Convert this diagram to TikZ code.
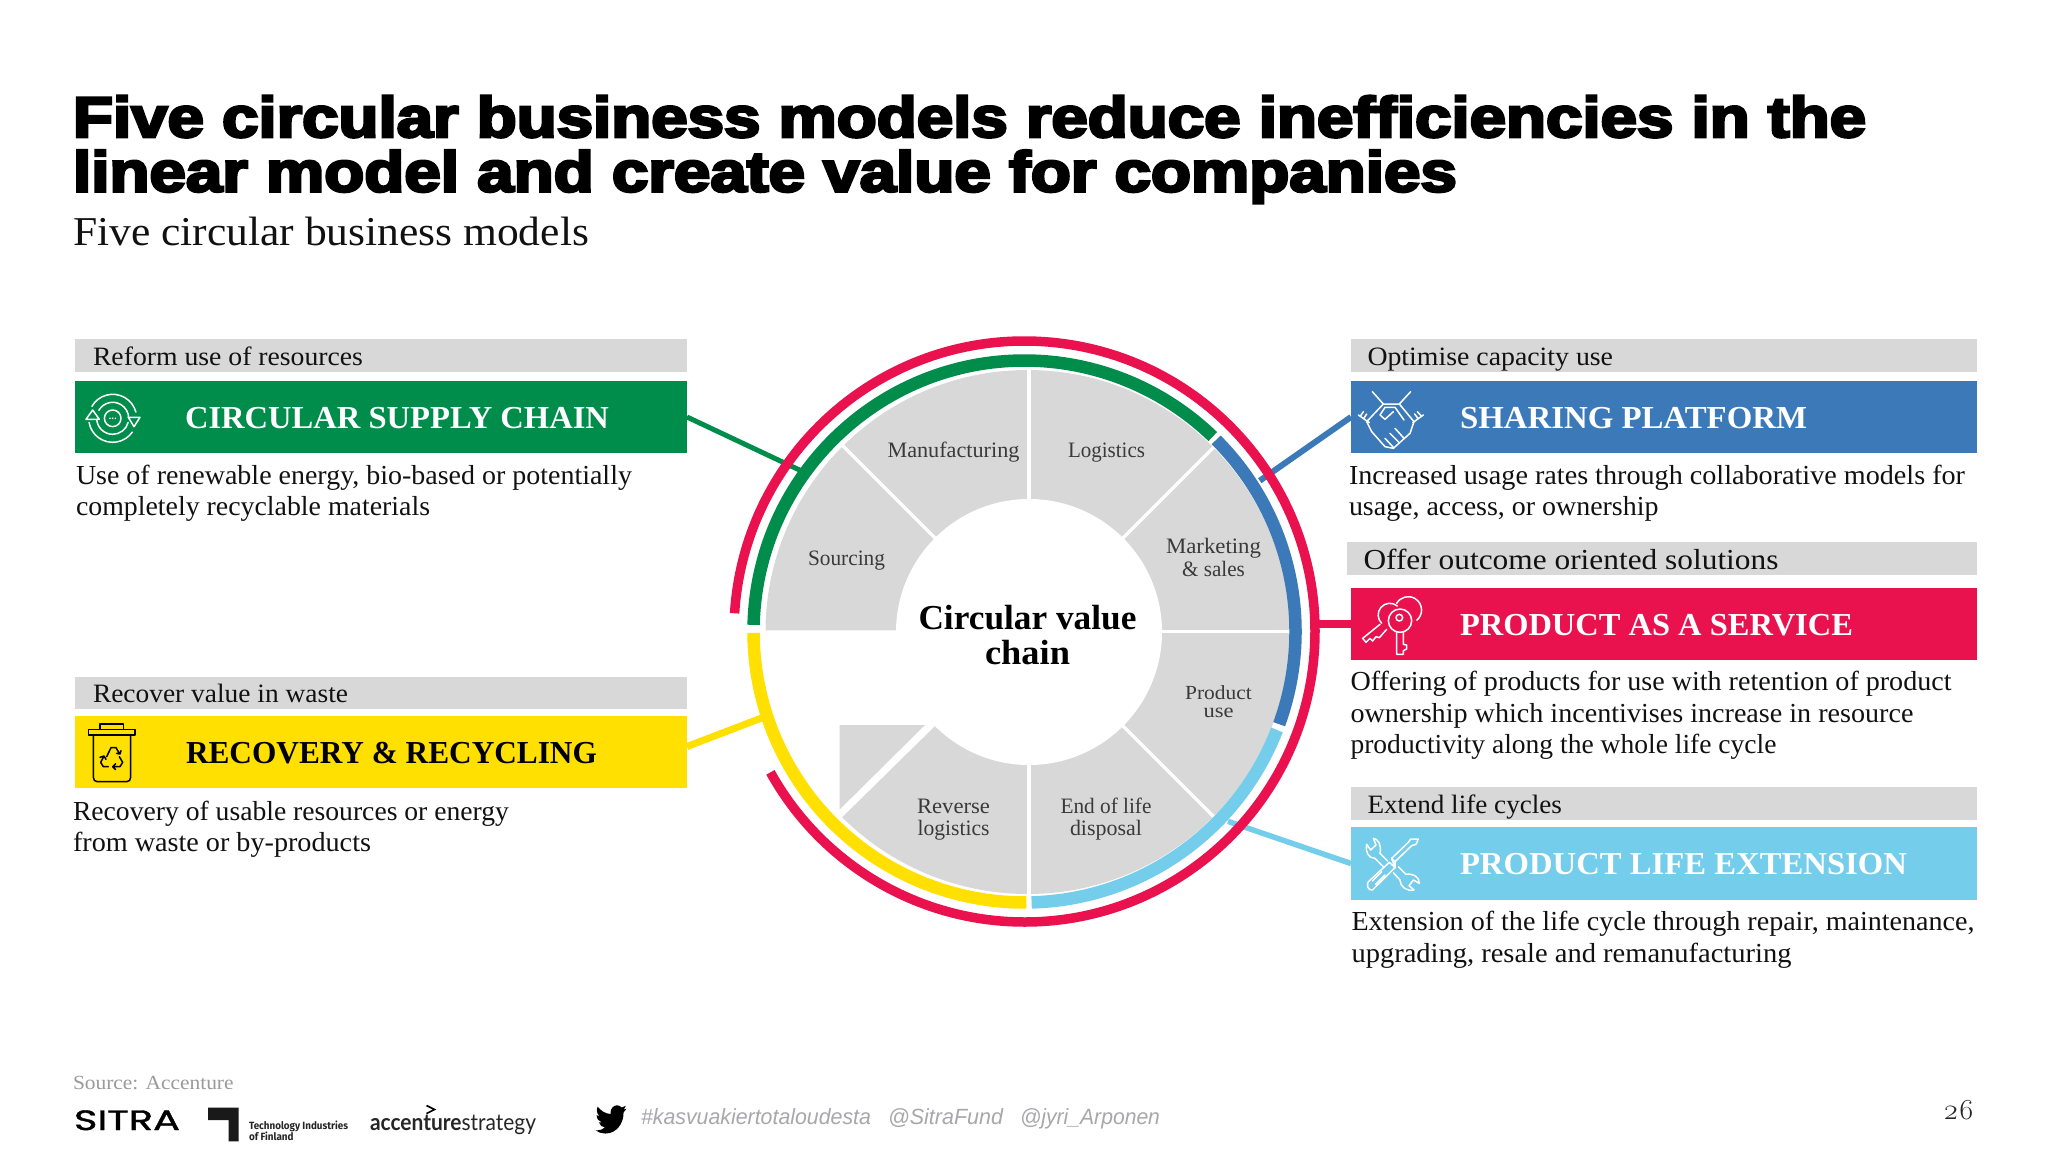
\documentclass[tikz,border=0pt]{standalone}
\usepackage{fontspec}
\usepackage{graphicx}
\setmainfont{Liberation Serif}
\newfontfamily\titlef[BoldFeatures={FakeBold=4.5}]{Liberation Sans}
\newfontfamily\tagf{Liberation Sans}
\newfontfamily\logof[FakeBold=1.2]{Poppins}
\newfontfamily\techf{Fira Sans}
\newfontfamily\accf{Lato}
\newfontfamily\pagef[Numbers=OldStyle]{Latin Modern Roman}
\definecolor{cgreen}{HTML}{008C4B}
\definecolor{cyellow}{HTML}{FFE000}
\definecolor{cblue}{HTML}{3B79B9}
\definecolor{cred}{HTML}{E9124F}
\definecolor{csky}{HTML}{74CDEA}
\definecolor{cgray}{HTML}{D8D8D9}
\definecolor{cink}{HTML}{111111}
\definecolor{clabel}{HTML}{3A3A3A}
\definecolor{cfoot}{HTML}{9A9A9A}
\definecolor{ctag}{HTML}{A8A8AC}
\newcommand\fitw[2]{\resizebox{#1pt}{\height}{#2}}
% name, x, y, style, width, text
\newcommand\txt[6]{\node[lbl,#4] (#1) at (#2,#3) {\fitw{#5}{#6}};}
% options, cx, cy, r, from, to
\newcommand\ringarc[6]{\draw[#1] ({#2+#4*cos(#5)},{#3-#4*sin(#5)}) arc[start angle=#5,end angle=#6,radius=#4 pt];}
\tikzset{
  lbl/.style={inner sep=0pt,outer sep=0pt,anchor=base west,text=cink},
  mid/.style={anchor=base},
  title/.style={font=\titlef\bfseries\fontsize{57}{60}\selectfont,text=black},
  sub/.style={font=\fontsize{41}{44}\selectfont},
  head/.style={font=\fontsize{26.5}{30}\selectfont},
  headb/.style={font=\fontsize{29}{32}\selectfont},
  desc/.style={font=\fontsize{27.5}{30}\selectfont},
  bandtxt/.style={font=\bfseries\fontsize{32}{34}\selectfont,text=white},
  seg/.style={mid,font=\fontsize{22}{24}\selectfont,text=clabel},
  segs/.style={mid,font=\fontsize{20}{22}\selectfont,text=clabel},
  hub/.style={mid,font=\bfseries\fontsize{35}{36}\selectfont,text=black},
  band/.style={inner sep=0pt,outer sep=0pt,minimum width=626pt,minimum height=72.5pt},
  bandl/.style={band,minimum width=612pt},
  bar/.style={inner sep=0pt,outer sep=0pt,fill=cgray,minimum height=33pt,minimum width=612pt},
  rim/.style={line width=12.5pt,line cap=butt},
  link/.style={line cap=butt},
  ico/.style={draw=white,line width=1.5pt,line cap=round,line join=round},
  icob/.style={draw=black,line width=1.5pt,line cap=round,line join=round}
}
\begin{document}
\begin{tikzpicture}[x=1pt,y=-1pt]
\useasboundingbox (0,0) rectangle (2048,1152);
\fill[white] (0,0) rectangle (2048,1152);

% title
\txt{t1}{73}{137}{title}{1793}{Five circular business models reduce inefficiencies in the}
\txt{t2}{73}{191.5}{title}{1384}{linear model and create value for companies}
\txt{t3}{73}{245}{sub}{516}{Five circular business models}

% grey header bars
\node[bar] (barA) at (381,355.5) {};
\node[bar,minimum height=32pt] (barB) at (381,692.5) {};
\node[bar,minimum width=626pt] (barC) at (1664,355.5) {};
\node[bar,minimum width=630pt] (barD) at (1662,558.5) {};
\node[bar,minimum width=626pt] (barE) at (1664,803.5) {};

% coloured bands
\node[bandl,fill=cgreen] (green) at (381,417) {};
\node[bandl,fill=cyellow] (yellow) at (381,752) {};
\node[band,fill=cblue] (blue) at (1664,417) {};
\node[band,fill=cred] (red) at (1664,624) {};
\node[band,fill=csky,minimum height=73pt] (sky) at (1664,863.5) {};

% connector ends on the ring
\coordinate (greenEnd) at (801,470.7);
\coordinate (yellowStart) at (687,746.5);
\coordinate (yellowEnd) at (762.3,717.7);
\coordinate (blueEnd) at (1259.8,480.7);
\coordinate (redEnd) at (1315,624);
\coordinate (skyEnd) at (1228,821.4);

\draw[link,cgreen,line width=5pt] (green.east) -- (greenEnd);
\draw[link,cyellow,line width=7pt] (yellowStart) -- (yellowEnd);
\draw[link,cblue,line width=6pt] (blue.west) -- (blueEnd);
\draw[link,cred,line width=8pt] (red.west) -- (redEnd);
\draw[link,csky,line width=5.5pt] (sky.west) -- (skyEnd);

% wheel
\fill[cgray] (765.5,630.45) arc[start angle=179.66,end angle=-135,radius=262pt] -- (1031,632) -- (1031,630.45) -- cycle;
\fill[cgray] (839.7,725) -- (925,725) -- (839.7,809.4) -- cycle;
\fill[white] (1029,632) circle[radius=133pt];
\draw[white,line width=3.4pt] (1029,365) -- (1029,500);
\draw[white,line width=3.4pt] (1029,764) -- (1029,899);
\draw[white,line width=3.4pt] (1162,631.5) -- (1295,631.5);
\draw[white,line width=3.4pt] (935,538) -- (838,441);
\draw[white,line width=3.4pt] (1123,538) -- (1220,441);
\draw[white,line width=3.4pt] (1123,726) -- (1220,823);

% rings
\ringarc{cred,line width=9.5pt}{1024.5}{631.5}{290.5}{176.4}{-151}
\ringarc{rim,cgreen}{1024.5}{631.5}{271}{178.6}{46}
\ringarc{rim,cblue}{1024.5}{631.5}{271}{45}{-20}
\ringarc{rim,csky}{1024.5}{631.5}{271}{-21.3}{-88.5}
\ringarc{rim,cyellow}{1024.5}{631.5}{271}{180.3}{270.4}

% wheel labels
\txt{sManu}{953.5}{457.4}{seg}{132}{Manufacturing}
\txt{sLog}{1106.5}{457.4}{seg}{77}{Logistics}
\txt{sSrc}{846.5}{565}{seg}{77}{Sourcing}
\txt{sMkt}{1213.5}{553.8}{seg}{95}{Marketing}
\txt{sMkb}{1213.5}{576}{seg}{62.7}{\& sales}
\txt{sPro}{1218.5}{699.7}{segs}{66.6}{Product}
\txt{sPrb}{1218.5}{717.7}{segs}{30}{use}
\txt{sRev}{953.5}{813.4}{seg}{73}{Reverse}
\txt{sReb}{953.5}{835}{seg}{72}{logistics}
\txt{sEnd}{1106}{813.4}{seg}{91}{End of life}
\txt{sEnb}{1106}{835}{seg}{72}{disposal}
\txt{hub1}{1027.5}{629}{hub}{218}{Circular value}
\txt{hub2}{1027.5}{664.5}{hub}{85}{chain}

% left texts
\txt{hA}{93}{365.5}{head}{270}{Reform use of resources}
\txt{nA}{185}{428}{bandtxt}{424}{CIRCULAR SUPPLY CHAIN}
\txt{dA1}{76}{484}{desc}{556}{Use of renewable energy, bio-based or potentially}
\txt{dA2}{76}{515.5}{desc}{354}{completely recyclable materials}
\txt{hB}{93}{702.5}{head}{255}{Recover value in waste}
\txt{nB}{186}{763}{bandtxt,text=black}{411}{RECOVERY \& RECYCLING}
\txt{dB1}{73}{820}{desc}{436}{Recovery of usable resources or energy}
\txt{dB2}{73}{851}{desc}{298}{from waste or by-products}

% right texts
\txt{hC}{1367.5}{365.5}{head}{245.5}{Optimise capacity use}
\txt{nC}{1460}{428}{bandtxt}{347}{SHARING PLATFORM}
\txt{dC1}{1349}{484}{desc}{616}{Increased usage rates through collaborative models for}
\txt{dC2}{1349}{515.5}{desc}{309.5}{usage, access, or ownership}
\txt{hD}{1363.5}{569.5}{headb}{415}{Offer outcome oriented solutions}
\txt{nD}{1460}{635}{bandtxt}{393}{PRODUCT AS A SERVICE}
\txt{dD1}{1350.5}{690.5}{desc}{601}{Offering of products for use with retention of product}
\txt{dD2}{1350.5}{722}{desc}{563}{ownership which incentivises increase in resource}
\txt{dD3}{1350.5}{753}{desc}{426}{productivity along the whole life cycle}
\txt{hE}{1367.5}{813.5}{head}{194.5}{Extend life cycles}
\txt{nE}{1460}{874}{bandtxt}{447}{PRODUCT LIFE EXTENSION}
\txt{dE1}{1351.5}{930.5}{desc}{623}{Extension of the life cycle through repair, maintenance,}
\txt{dE2}{1351.5}{962}{desc}{440}{upgrading, resale and remanufacturing}

% icon: circular arrows
\draw[ico] (112.7,418.3) circle[radius=8.3pt];
\fill[white] (110,418.3) circle[radius=0.9pt] (112.7,418.3) circle[radius=0.9pt] (115.4,418.3) circle[radius=0.9pt];
\ringarc{ico}{112.7}{418.3}{24}{150}{15}
\ringarc{ico}{112.7}{418.3}{24}{190}{325}
\ringarc{ico}{112.7}{418.3}{16}{150}{0}
\ringarc{ico}{112.7}{418.3}{16}{180}{345}
\draw[ico,fill=cgreen] (86,419.3) -- (99.3,419.3) -- (92.7,410) -- cycle;
\draw[ico,fill=cgreen] (128.3,417.3) -- (140,417.3) -- (134,426.7) -- cycle;

% icon: bin
\begin{scope}[shift={(60,700)},scale=1/3]
\draw[icob] (120,88) -- (120,72) -- (190,72) -- (190,88);
\draw[icob] (85,88) -- (225,88) -- (225,105) -- (85,105) -- cycle;
\draw[icob] (100,105) -- (100,232) .. controls (100,240) and (105,245) .. (112,245) -- (200,245) .. controls (207,245) and (212,240) .. (212,232) -- (212,105);
\draw[icob] (140,170) -- (153,143) -- (168,143) -- (178,160) (170,160) -- (180,162) -- (183,152);
\draw[icob] (178,170) -- (188,187) -- (180,200) -- (160,200) (167,191) -- (158,200) -- (167,209);
\draw[icob] (145,200) -- (130,200) -- (122,187) -- (130,172) (120,172) -- (132,168) -- (138,178);
\end{scope}

% icon: handshake
\begin{scope}[shift={(1340,370)},scale=1/3]
\draw[ico] (97,65) -- (130,102) -- (178,102) -- (212,65);
\draw[ico] (55,135) -- (88,158) (62,137) -- (70,125) (72,144) -- (80,132);
\draw[ico] (250,135) -- (218,158) (243,137) -- (232,125) (233,144) -- (224,132);
\draw[ico] (130,102) -- (80,155) -- (95,185) -- (135,230) -- (160,235) -- (210,190) -- (222,155) -- (178,102);
\draw[ico] (135,205) -- (160,232) (150,190) -- (178,218) (165,175) -- (192,205);
\draw[ico] (120,135) -- (135,112) -- (165,112) -- (192,150) (120,135) -- (135,148) -- (160,125);
\end{scope}

% icon: keys
\begin{scope}[shift={(1340,585)},scale=1/3]
\draw[ico] (180,107) circle[radius=35pt];
\draw[ico] (178,98) circle[radius=10pt];
\draw[ico] (170,142) -- (170,208) -- (190,208) -- (190,197) -- (200,192) -- (200,180) -- (190,178) -- (190,142);
\draw[ico] (172,63) arc[start angle=50,end angle=225,radius=35pt];
\draw[ico] (170,55) arc[start angle=150,end angle=-50,radius=40pt];
\draw[ico] (120,118) -- (68,160) -- (78,172) -- (90,160) -- (98,168) -- (108,155) -- (118,158) -- (140,133);
\end{scope}

% icon: tools
\begin{scope}[shift={(1340,825)},scale=1/3]
\draw[ico] (120,85) .. controls (125,60) and (115,42) .. (100,40) -- (108,60) -- (92,75) -- (80,58) .. controls (75,80) and (85,100) .. (105,100) -- (130,125);
\draw[ico] (120,85) -- (143,108);
\draw[ico] (175,125) -- (198,148) .. controls (220,145) and (238,155) .. (238,175) -- (220,165) -- (207,182) -- (222,195) .. controls (200,200) and (180,185) .. (180,165) -- (160,143);
\draw[ico] (235,42) -- (228,58) -- (215,62) -- (165,110) -- (155,100) -- (205,52) -- (212,42) -- cycle;
\draw[ico] (148,112) -- (165,128) -- (155,100) (165,110) -- (165,128);
\draw[ico] (148,112) -- (85,170) .. controls (78,180) and (85,197) .. (97,195) -- (165,128);
\draw[ico] (125,140) -- (97,168) (135,150) -- (107,178);
\end{scope}

% footer
\txt{src}{73}{1089}{font=\fontsize{20}{22}\selectfont,text=cfoot}{160.6}{Source: Accenture}
\txt{lgS}{74}{1130}{font=\logof\fontsize{28}{30}\selectfont,text=black}{106}{SITRA}
\fill[black!90] (208,1107.5) -- (238.6,1107.5) -- (238.6,1141.4) -- (228.6,1141.4) -- (228.6,1120) -- (208,1120) -- cycle;
\txt{lgT1}{249}{1129.6}{font=\techf\bfseries\fontsize{10.5}{12}\selectfont,text=black!85}{99}{Technology Industries}
\txt{lgT2}{249}{1140.7}{font=\techf\bfseries\fontsize{10.5}{12}\selectfont,text=black!85}{44.6}{of Finland}
\txt{lgA}{370}{1130.7}{font=\accf\fontsize{23}{26}\selectfont,text=black!85}{166}{\textbf{accenture}strategy}
\draw[black,line width=1.6pt] (426.5,1105.5) -- (434.5,1109.5) -- (426.5,1113.5);

\begin{scope}[shift={(595.5,1102)},xscale=1.3,yscale=1.45]
\fill[black] (24,4.59) .. controls (23.07,4.96) and (22.12,5.22) .. (21.13,5.345)
 .. controls (22.15,4.73) and (22.93,3.77) .. (23.29,2.62)
 .. controls (22.34,3.18) and (21.29,3.58) .. (20.17,3.81)
 .. controls (19.25,2.83) and (17.96,2.27) .. (16.54,2.27)
 .. controls (13.82,2.27) and (11.62,4.47) .. (11.62,7.19)
 .. controls (11.62,7.58) and (11.66,7.95) .. (11.78,8.29)
 .. controls (7.69,8.095) and (4.067,6.13) .. (1.64,3.162)
 .. controls (1.22,3.88) and (.974,4.72) .. (.974,5.637)
 .. controls (.974,7.347) and (1.844,8.85) .. (3.162,9.733)
 .. controls (2.355,9.71) and (1.59,9.48) .. (.934,9.117)
 -- (.934,9.177)
 .. controls (.934,11.56) and (2.63,13.55) .. (4.88,14.004)
 .. controls (4.16,14.2) and (3.4,14.23) .. (2.668,14.089)
 .. controls (3.3,16.07) and (5.13,17.46) .. (7.272,17.506)
 .. controls (5.6,18.83) and (3.48,19.61) .. (1.17,19.611)
 .. controls (.78,19.611) and (.391,19.588) .. (0,19.544)
 .. controls (2.18,20.94) and (4.77,21.75) .. (7.557,21.753)
 .. controls (16.61,21.753) and (21.555,14.257) .. (21.555,7.768)
 .. controls (21.555,7.558) and (21.555,7.348) .. (21.54,7.138)
 .. controls (22.5,6.44) and (23.33,5.57) .. (24,4.59) -- cycle;
\end{scope}

\txt{tg1}{641}{1124.5}{font=\tagf\itshape\fontsize{22}{24}\selectfont,text=ctag}{230}{\#kasvuakiertotaloudesta}
\txt{tg2}{888}{1124.5}{font=\tagf\itshape\fontsize{22}{24}\selectfont,text=ctag}{115}{@SitraFund}
\txt{tg3}{1020}{1124.5}{font=\tagf\itshape\fontsize{22}{24}\selectfont,text=ctag}{140}{@jyri\_Arponen}

\txt{pg}{1943}{1119}{font=\pagef\fontsize{29}{30}\selectfont,text=black!85}{31}{26}
\end{tikzpicture}
\end{document}
